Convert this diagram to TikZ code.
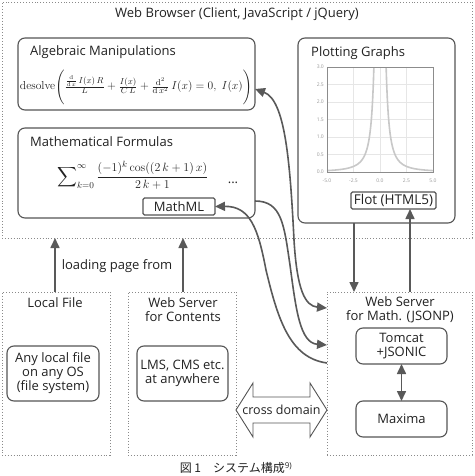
\documentclass[tikz,border=0pt]{standalone}
\usepackage{amsmath}
\usepackage[no-math]{fontspec}
\setmainfont{Open Sans}
\newfontfamily\cjk{Noto Sans CJK JP}
\usepackage{graphicx}
\usetikzlibrary{arrows.meta}
\definecolor{boxc}{HTML}{555555}
\definecolor{arrc}{HTML}{595959}
\definecolor{dotc}{HTML}{8A8A8A}
\definecolor{txtc}{HTML}{222222}
\definecolor{gridc}{HTML}{E6E6E6}
\definecolor{framec}{HTML}{8C8C8C}
\definecolor{curvec}{HTML}{C8C8C8}
\definecolor{tickc}{HTML}{9A9A9A}
\begin{document}
\begin{tikzpicture}[x=1pt,y=-1pt,
  every node/.style={text=txtc, font=\fontsize{13}{14}\selectfont},
  obox/.style={draw=dotc, dotted, line width=0.9pt, inner sep=0pt, outer sep=0pt},
  rbox/.style={draw=boxc, rounded corners=7pt, line width=1.1pt, inner sep=0pt, outer sep=0pt, align=center},
  sbox/.style={draw=boxc, rounded corners=1.5pt, line width=1.1pt, inner sep=0pt, outer sep=0pt},
  arr/.style={draw=arrc, line width=1.6pt, -{Triangle[length=10pt,width=9pt]}},
  darr/.style={draw=arrc, line width=1.6pt, {Triangle[length=10pt,width=9pt]}-{Triangle[length=10pt,width=9pt]}},
  tick/.style={text=tickc, font=\fontsize{5}{5}\selectfont, inner sep=0pt},
  grd/.style={draw=gridc, line width=0.6pt},
]
\useasboundingbox (0,0) rectangle (474,476);
\fill[white] (0,0) rectangle (474,476);

% outer dotted boxes
\node[obox, minimum width=470pt, minimum height=236pt] (browser) at (237,120) {};
\node (browsert) at (237,14) {Web Browser (Client, JavaScript / jQuery)};
\node[obox, minimum width=108pt, minimum height=163pt] (local) at (56,373.5) {};
\node (localt) at (55,303) {Local File};
\node[obox, minimum width=108pt, minimum height=163pt] (cont) at (182,373.5) {};
\node[align=center] (contt) at (183,310) {Web Server\\for Contents};
\node[obox, minimum width=145pt, minimum height=163pt] (msrv) at (399.5,373.5) {};
\node[align=center] (msrvt) at (400,310) {Web Server\\for Math. (JSONP)};

% browser inner boxes
\node[rbox, minimum width=237pt, minimum height=72pt] (alg) at (136.5,74) {};
\node[anchor=west, inner sep=0pt] (algt) at (30,52) {Algebraic Manipulations};
\node[inner sep=0pt] (algf) at (136,87) {\resizebox{232pt}{!}{$\mathrm{desolve}\Biggl(\tfrac{\frac{\mathrm{d}}{\mathrm{d}\,x}\,I(x)\,R}{L}+\tfrac{I(x)}{C\,L}+\tfrac{\mathrm{d}^2}{\mathrm{d}\,x^2}\,I(x)=0,\ I(x)\Biggr)$}};

\node[rbox, minimum width=237pt, minimum height=90pt] (form) at (136.5,173) {};
\node[anchor=west, inner sep=0pt] (formt) at (30,142) {Mathematical Formulas};
\node[inner sep=0pt, anchor=west] (formf) at (57,175) {\fontsize{12.5}{14}\selectfont$\displaystyle\mathop{\vcenter{\hbox{\scalebox{1.15}{$\displaystyle\sum$}}}}\nolimits_{k=0}^{\infty}\frac{(-1)^k\cos((2\,k+1)\,x)}{2\,k+1}$};
\node[inner sep=0pt] (dots) at (233,183) {...};
\node[sbox, minimum width=72pt, minimum height=17pt] (mathml) at (179,206.5) {MathML};

\node[rbox, minimum width=157pt, minimum height=185pt] (plotbox) at (376.5,130.5) {};
\node[anchor=west, inner sep=0pt] (plott) at (311,53) {Plotting Graphs};
% plot
\foreach \gx in {-5,-2.5,0,2.5,5} \draw[grd] ({380+10.6*\gx},67) -- ({380+10.6*\gx},172);
\foreach \gy in {0,0.5,1,1.5,2,2.5,3} \draw[grd] (327,{172-35*\gy}) -- (433,{172-35*\gy});
\draw[draw=curvec, line width=1.6pt] plot[domain=0.58:5, samples=80, smooth] ({380+10.6*\x},{172-35/(\x*\x)});
\draw[draw=curvec, line width=1.6pt] plot[domain=0.58:5, samples=80, smooth] ({380-10.6*\x},{172-35/(\x*\x)});
\node[draw=framec, line width=0.9pt, minimum width=106pt, minimum height=105pt, inner sep=0pt] (axes) at (380,119.5) {};
\foreach \lab [count=\i] in {0.0,0.5,1.0,1.5,2.0,2.5,3.0}
  \node[tick, anchor=east] (yl\i) at (324,{172-17.5*(\i-1)}) {\lab};
\foreach \lab [count=\i] in {-5.0,-2.5,0.0,2.5,5.0}
  \node[tick] (xl\i) at ({327+26.5*(\i-1)},181) {\lab};
\node[sbox, minimum width=85pt, minimum height=17pt] (flot) at (393.5,200.5) {\fontsize{13.5}{14}\selectfont Flot (HTML5)};

% bottom inner boxes
\node[rbox, minimum width=92pt, minimum height=55pt] (anyf) at (53,373.5) {Any local file\\on any OS\\(file system)};
\node[rbox, minimum width=91pt, minimum height=55pt] (lms) at (182.5,373.5) {LMS, CMS etc.\\at anywhere};
\node[rbox, minimum width=91pt, minimum height=36pt] (tomcat) at (401.5,346) {Tomcat\\+JSONIC};
\node[rbox, minimum width=91pt, minimum height=36pt] (maxima) at (401.5,419) {Maxima};

% loading arrows
\coordinate (cx1) at (55,0);
\coordinate (cx2) at (183,0);
\draw[arr] (local.north -| cx1) -- (browser.south -| cx1);
\draw[arr] (cont.north -| cx2) -- (browser.south -| cx2);
\node (load) at (117,266) {loading page from};

% vertical arrows browser <-> math server
\coordinate (c1) at (354,0);
\coordinate (c2) at (410,0);
\draw[arr] (plotbox.south -| c1) -- (msrv.north -| c1);
\draw[arr] (msrv.north -| c2) -- (flot.south -| c2);

% tomcat <-> maxima
\draw[darr] (tomcat.south) -- (maxima.north);

% curved connectors
\coordinate (ya) at (0,363);
\coordinate (yb) at (0,345);
\coordinate (yc) at (0,308);
\coordinate (yd) at (0,89);
\coordinate (ye) at (0,201);
\draw[arr] (msrv.west |- ya) .. controls (290,358) and (278,320) .. (266,270) .. controls (258,228) and (250,206) .. (mathml.east);
\draw[arr] (form.east |- ye) .. controls (282,201) and (284,225) .. (290,265) .. controls (296,310) and (300,343) .. (msrv.west |- yb);
\draw[darr] (alg.east |- yd) .. controls (285,100) and (290,160) .. (294,240) .. controls (297,290) and (305,306) .. (msrv.west |- yc);

% cross domain double arrow
\draw[draw=boxc, fill=white, line width=0.9pt, line join=miter]
  (236,410) -- (253,383) -- (253,397) -- (310,397) -- (310,383) -- (327,410)
  -- (310,437) -- (310,423) -- (253,423) -- (253,437) -- cycle;
\node[font=\fontsize{12.5}{13}\selectfont] (cross) at (281.5,410) {cross domain};

% caption
\node[font=\cjk\fontsize{12}{12}\selectfont, text=txtc] (cap) at (236,468) {図 1\quad システム構成\textsuperscript{\rmfamily 9)}};
\end{tikzpicture}
\end{document}
